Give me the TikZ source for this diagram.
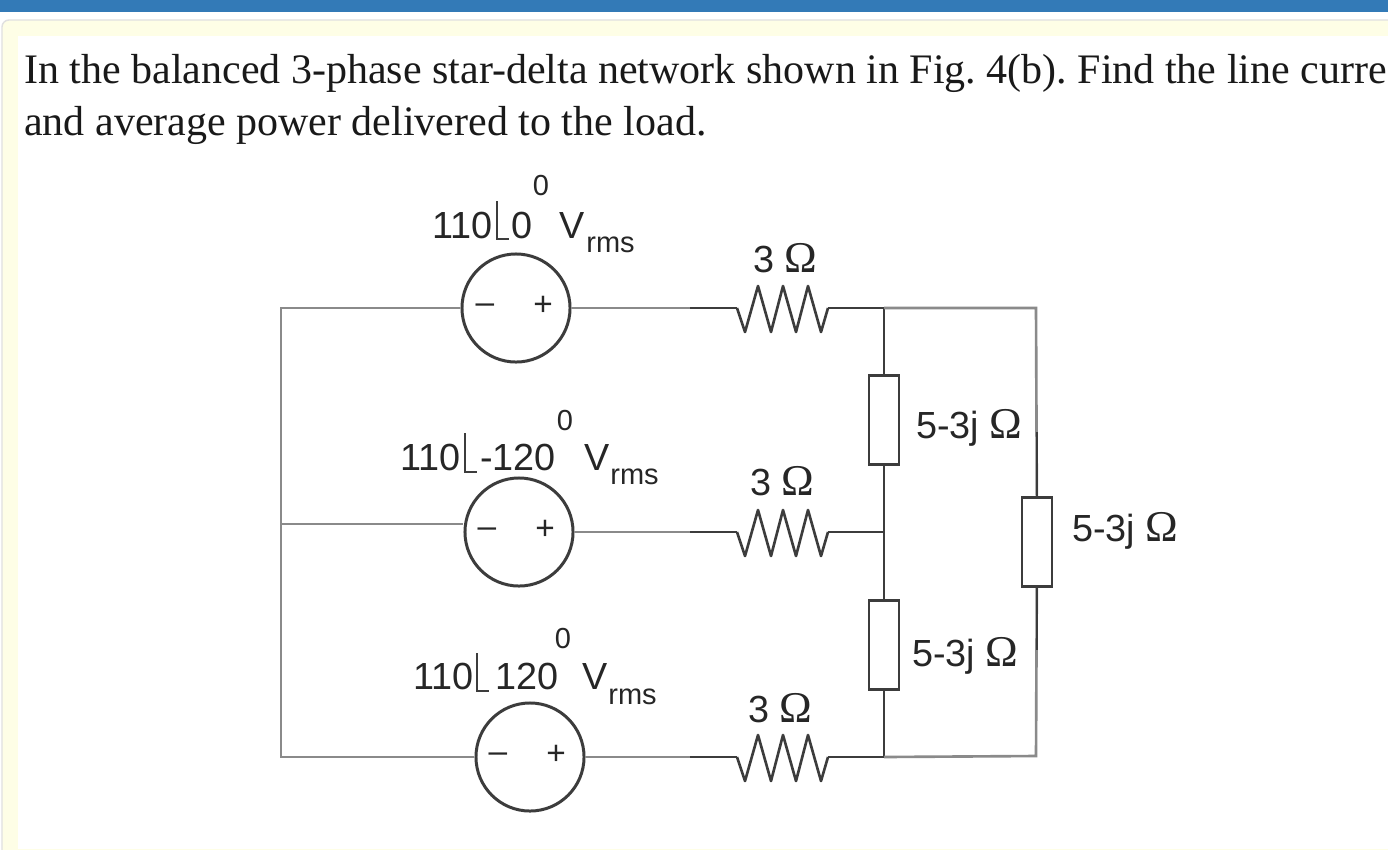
\documentclass[tikz,border=0pt]{standalone}
\usepackage{fontspec}
\setmainfont{Liberation Serif}
\newfontfamily\labelfont{Liberation Sans}
\definecolor{barblue}{HTML}{337AB7}
\definecolor{panelcream}{HTML}{FEFEE6}
\definecolor{wiregray}{HTML}{8A8A8A}
\definecolor{wiredark}{HTML}{3C3C3C}
\newcommand{\ohmsign}{{\rmfamily\fontsize{25pt}{26pt}\selectfont Ω}}
\tikzset{
  wire/.style={draw=wiregray,line width=1.5pt},
  wirek/.style={draw=wiredark,line width=1.5pt},
  source/.style={draw=wiredark,line width=1.7pt,circle,minimum size=61.5pt,inner sep=0pt},
  load/.style={draw=wiredark,line width=1.6pt,fill=white,minimum width=17pt,minimum height=51pt,inner sep=0pt},
  cir/.style={font=\labelfont\fontsize{21.5pt}{24pt}\selectfont,text=black!85,inner sep=0pt},
  sub/.style={font=\labelfont\fontsize{16.5pt}{18pt}\selectfont,text=black!85,inner sep=0pt},
  sign/.style={font=\labelfont\fontsize{19pt}{20pt}\selectfont,text=black!85,inner sep=0pt},
  para/.style={font=\fontsize{23.9pt}{26pt}\selectfont,text=black!90,anchor=base west,inner sep=0pt}
}
\begin{document}
\frenchspacing
\begin{tikzpicture}[x=0.02cm,y=-0.02cm]
  \useasboundingbox (0,0) rectangle (1388,849);

  % page
  \fill[white] (0,0) rectangle (1388,849);
  \fill[barblue] (0,0) rectangle (1388,12);
  \draw[fill=panelcream,draw=black!12,line width=0.8pt,rounded corners=4pt] (2,20) rectangle (1400,870);
  \fill[white] (18,36) rectangle (1388,849);

  \node[para] (line1) at (24,83) {In the balanced 3-phase star-delta network shown in Fig. 4(b). Find the line curre};
  \node[para] (line2) at (24,135) {and average power delivered to the load.};

  % sources
  \node[source] (srcA) at (516,308) {};
  \node[source] (srcB) at (519,532) {};
  \node[source] (srcC) at (530,757) {};
  \foreach \name/\mx/\px/\y in {srcA/485/543/306,srcB/487/545/530,srcC/498/556/755} {
    \node[sign] (\name minus) at (\mx,\y+3) {–};
    \node[sign] (\name plus) at (\px,\y) {+};
  }

  % corners
  \coordinate (tl) at (281,308);
  \coordinate (ml) at (281,524);
  \coordinate (bl) at (281,757);
  \coordinate (tj) at (884,308);
  \coordinate (mj) at (884,532);
  \coordinate (bj) at (884,757);
  \coordinate (tr) at (1036,308);
  \coordinate (br) at (1036,756);

  % resistors
  \coordinate (rAin) at (690,308);
  \coordinate (rBin) at (690,532);
  \coordinate (rCin) at (690,757);
  \foreach \name/\y in {rA/308,rB/532,rC/757} {
    \coordinate (\name s) at (737,\y);
    \coordinate (\name e) at (828,\y);
    \draw[wirek,line join=round] (\name s) -- ++(8,24) -- ++(13,-46) -- ++(13,46) -- ++(12,-46)
      -- ++(13,46) -- ++(12,-46) -- ++(13,46) -- (\name e);
  }

  % loads
  \node[load] (zAB) at (884,420) {};
  \node[load] (zBC) at (884,645) {};
  \node[load] (zCA) at (1037,542) {};

  % wiring
  \draw[wire] (srcA) -- (tl) -- (bl) -- (srcC);
  \draw[wire] (ml) -- (ml-|srcB.west);
  \draw[wire] (srcA) -- (rAin);
  \draw[wire] (srcB) -- (rBin);
  \draw[wire] (srcC) -- (rCin);
  \draw[wirek] (rAin) -- (rAs);
  \draw[wirek] (rBin) -- (rBs);
  \draw[wirek] (rCin) -- (rCs);
  \draw[wirek] (rAe) -- (tj);
  \draw[wirek] (rBe) -- (mj);
  \draw[wirek] (rCe) -- (bj);
  \draw[wirek] (tj) -- (zAB);
  \draw[wirek] (zAB) -- (zBC);
  \draw[wirek] (zBC) -- (bj);
  \draw[wire] (tj) -- (tr) -- (zCA);
  \draw[wire] (zCA) -- (br) -- (bj);
  \draw[wirek] (zCA.north) -- ++(0,-64);
  \draw[wirek] (zCA.south) -- ++(0,62);

  % source labels
  \node[cir,anchor=base west] (lblA) at (432,238) {110};
  \node[cir,anchor=base west] (lblAang) at (511,238) {0};
  \node[sub] (lblAdeg) at (541,186) {0};
  \node[cir,anchor=base west] (lblAV) at (559,238) {V};
  \node[sub,anchor=base west] (lblArms) at (586,252) {rms};
  \draw[wirek,line width=0.9pt] (497,201) -- (497,239) -- (509,239);

  \node[cir,anchor=base west] (lblB) at (400,470) {110};
  \node[cir,anchor=base west] (lblBang) at (480,470) {-120};
  \node[sub] (lblBdeg) at (565,421) {0};
  \node[cir,anchor=base west] (lblBV) at (584,470) {V};
  \node[sub,anchor=base west] (lblBrms) at (610,484) {rms};
  \draw[wirek,line width=0.9pt] (465,433) -- (465,472) -- (477,472);

  \node[cir,anchor=base west] (lblC) at (413,689) {110};
  \node[cir,anchor=base west] (lblCang) at (495,689) {120};
  \node[sub] (lblCdeg) at (563,639) {0};
  \node[cir,anchor=base west] (lblCV) at (582,689) {V};
  \node[sub,anchor=base west] (lblCrms) at (608,704) {rms};
  \draw[wirek,line width=0.9pt] (477,653) -- (477,691) -- (489,691);

  % values
  \node[cir,anchor=base west] (ohmA) at (753,272) {3 \ohmsign};
  \node[cir,anchor=base west] (ohmB) at (750,495) {3 \ohmsign};
  \node[cir,anchor=base west] (ohmC) at (748,722) {3 \ohmsign};
  \node[cir,anchor=base west] (valAB) at (916,438) {5-3j \ohmsign};
  \node[cir,anchor=base west] (valBC) at (912,666) {5-3j \ohmsign};
  \node[cir,anchor=base west] (valCA) at (1072,541) {5-3j \ohmsign};
\end{tikzpicture}
\end{document}
